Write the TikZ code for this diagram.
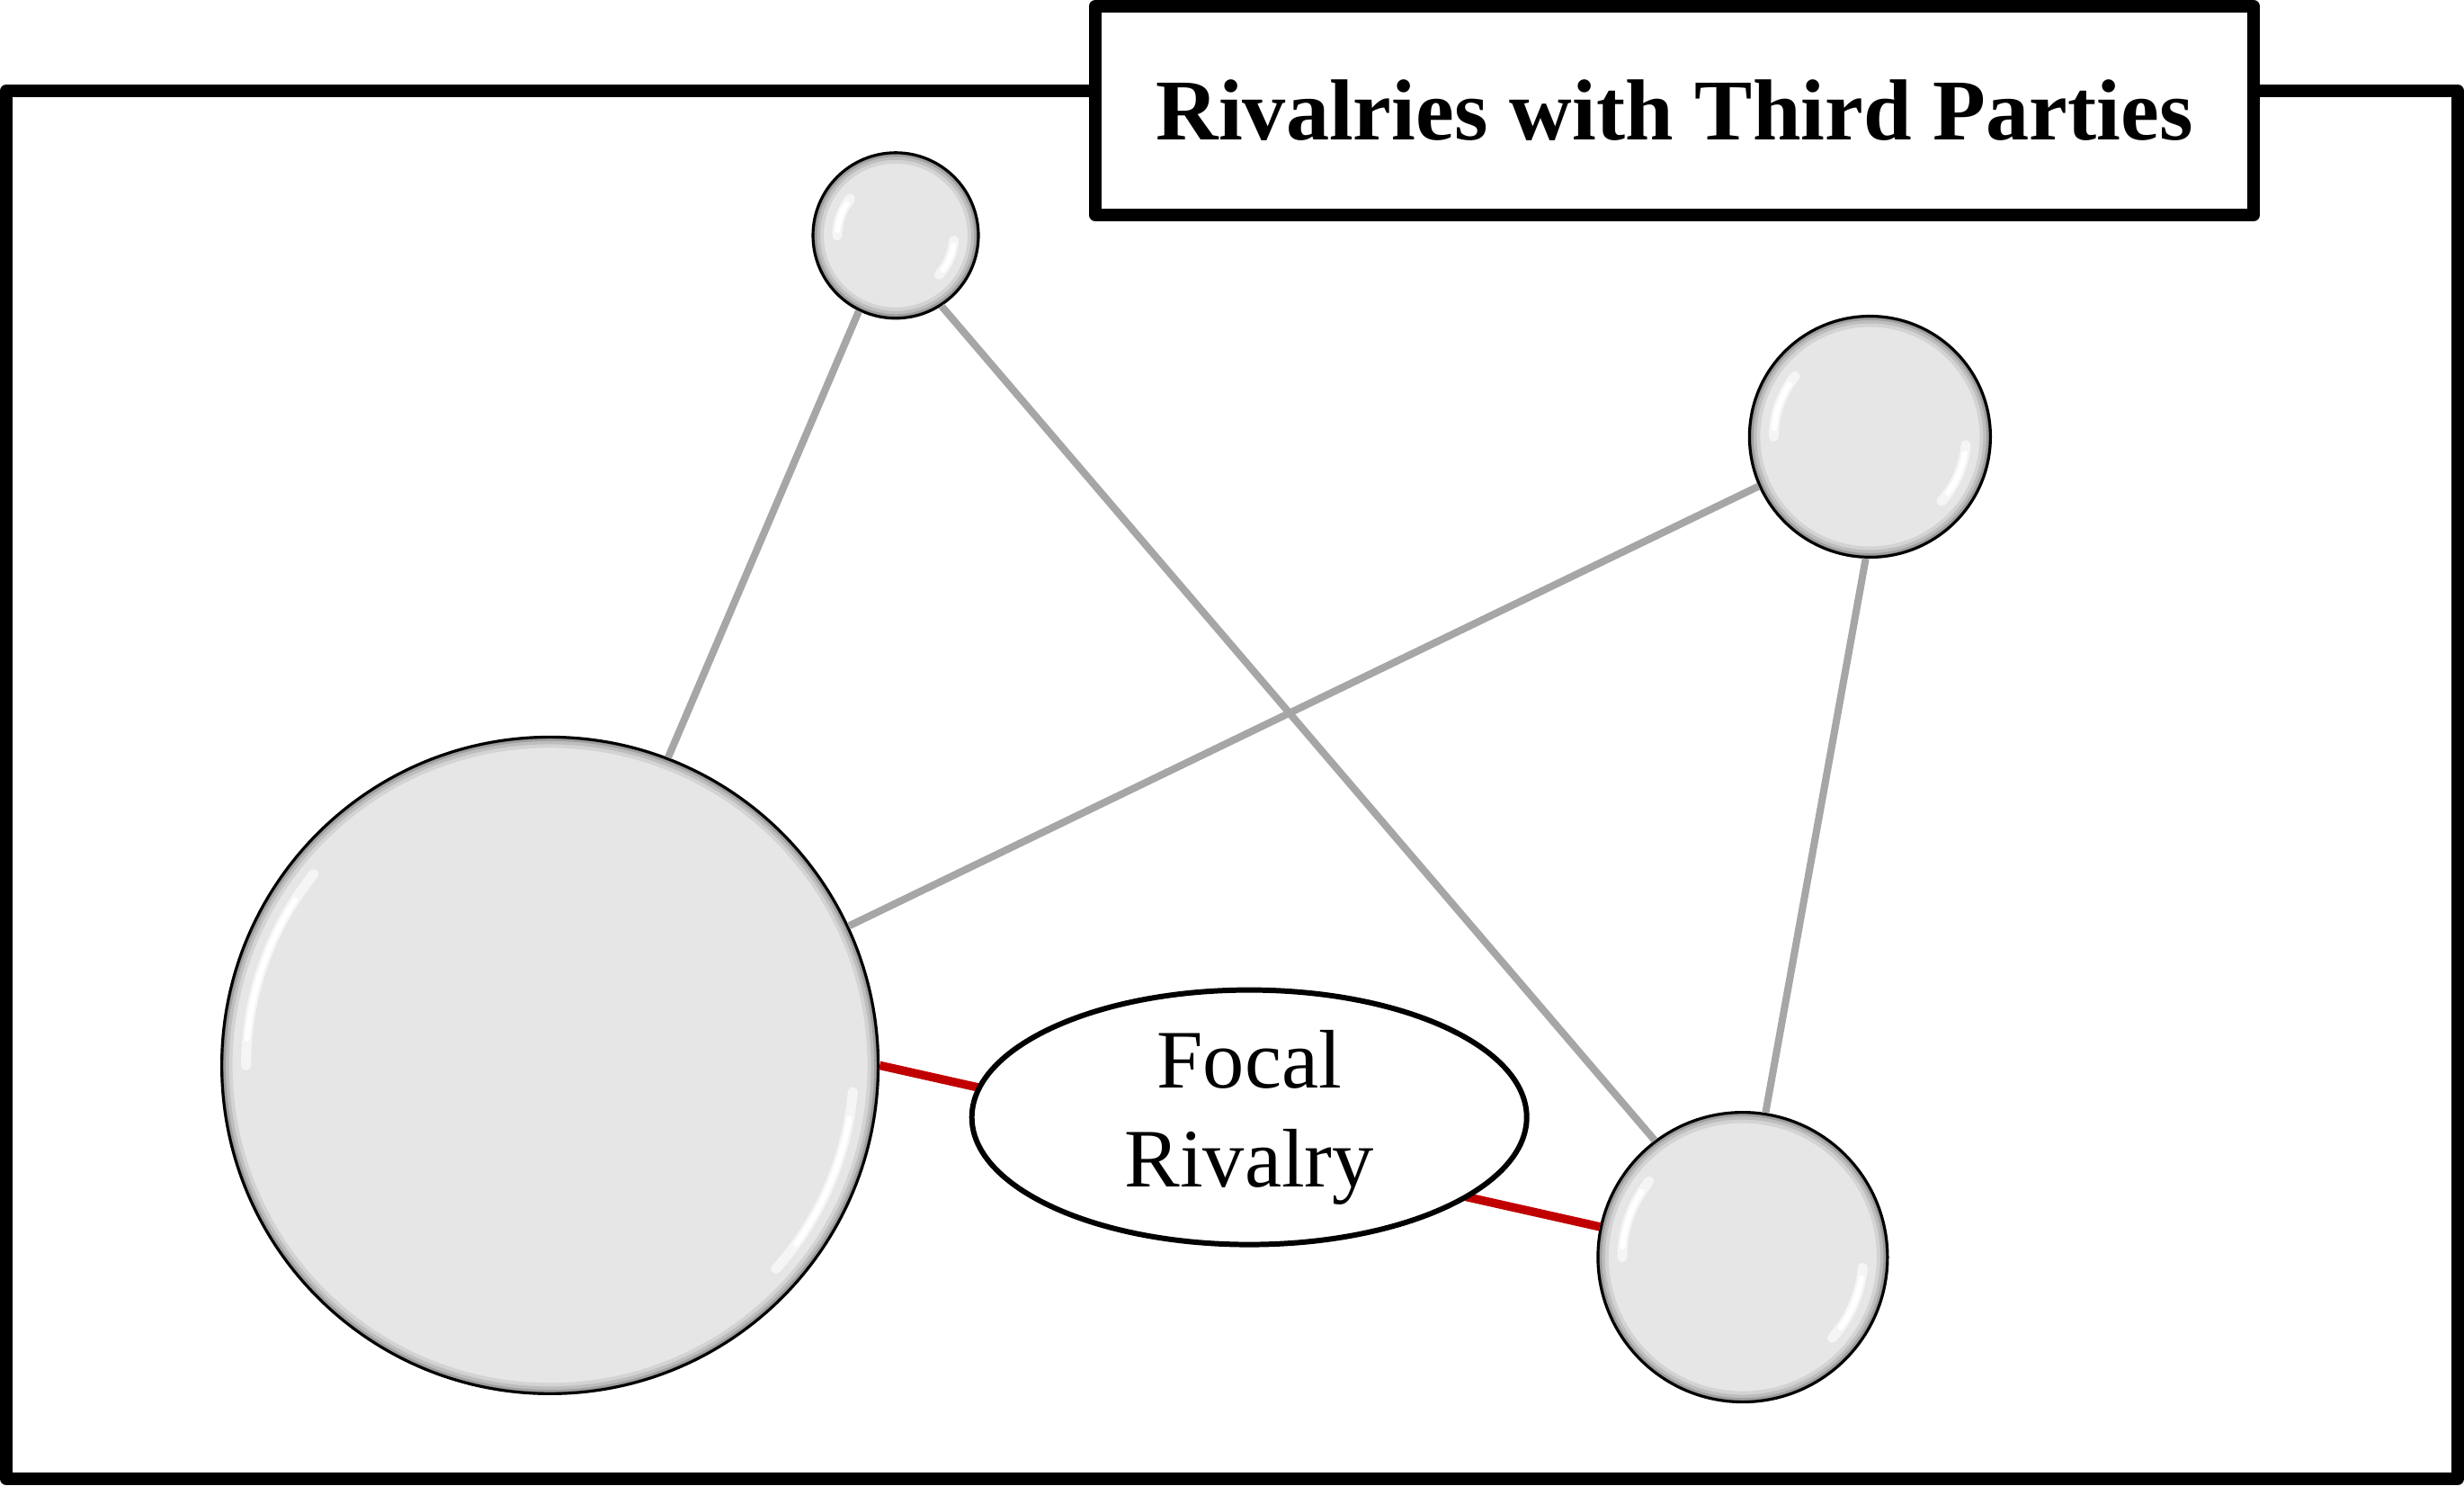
\documentclass[tikz,border=0pt]{standalone}
\usepackage{fontspec}
\setmainfont{Liberation Serif}
\usetikzlibrary{shapes.geometric}
\definecolor{bubblegray}{HTML}{E6E6E6}
\definecolor{linkgray}{HTML}{A6A6A6}
\definecolor{rivalred}{HTML}{C00000}
\tikzset{
	bubble/.style={circle, draw=black, line width=0.9pt, fill=bubblegray, inner sep=0pt, minimum size=2*#1 cm,
		path picture={
			\begin{scope}[shift={(path picture bounding box.center)}]
				\foreach \w/\o in {0.24/0.08, 0.16/0.1, 0.09/0.15, 0.04/0.2}
				\draw[black, opacity=\o, line width=\w cm] (0,0) circle (#1);
				\draw[white, opacity=0.6, line width=0.11cm, line cap=round] (141:#1-0.27) arc (141:180:#1-0.27);
				\draw[white, line width=0.06cm, line cap=round] (147:#1-0.27) arc (147:175:#1-0.27);
				\draw[white, opacity=0.6, line width=0.11cm, line cap=round] (-42:#1-0.27) arc (-42:-5:#1-0.27);
				\draw[white, line width=0.06cm, line cap=round] (-36:#1-0.27) arc (-36:-10:#1-0.27);
			\end{scope}}},
	link/.style={draw=linkgray, line width=2.3pt},
	focalline/.style={draw=rivalred, line width=2.7pt},
}
\begin{document}
\begin{tikzpicture}[line join=round]
	\useasboundingbox (0,0) rectangle (27.40,16.51);
	% frame and title
	\draw[line width=0.14cm] (0.07,0.07) rectangle (27.33,15.50);
	\node (title) at (18.62,15.28) [draw, fill=white, line width=0.14cm, minimum width=12.88cm, minimum height=2.32cm,
		font=\fontsize{27.4}{33}\selectfont\bfseries]{Rivalries with Third Parties};
	% states
	\node (rivalA) at (6.116,4.666) [bubble=3.65]{};
	\node (rivalB) at (19.379,2.534) [bubble=1.61]{};
	\node (thirdA) at (9.960,13.892) [bubble=0.92]{};
	\node (thirdB) at (20.794,11.655) [bubble=1.34]{};
	% rivalries
	\draw[link] (thirdA.244)--(rivalA.69) (thirdA.303)--(rivalB.127);
	\draw[link] (thirdB.204)--(rivalA.25) (thirdB.268)--(rivalB.81);
	\draw[focalline] (rivalA.east)--(rivalB.168);
	\node (focal) at (13.892,4.089) [ellipse, draw, fill=white, line width=1.7pt, minimum width=6.17cm, minimum height=2.83cm,
		align=center, inner sep=0pt, font=\fontsize{26.3}{31.3}\selectfont]{Focal\\Rivalry};
\end{tikzpicture}
\end{document}
